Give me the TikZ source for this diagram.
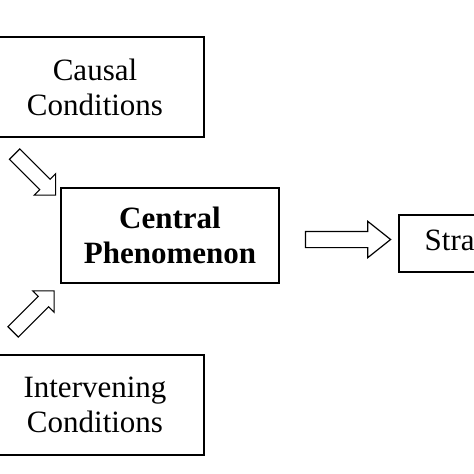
\documentclass[tikz,border=0pt]{standalone}
\usepackage{fontspec}
\setmainfont{Liberation Serif}
\usetikzlibrary{shapes, arrows, calc, positioning}

\begin{document}
\begin{tikzpicture}[x=1pt, y=-1pt]
	\tikzstyle{box} = [draw, line width=1.6pt, align=center, inner sep=0pt, font=\fontsize{31}{35}\selectfont]
	\tikzstyle{hollow} = [draw, line width=1.2pt, single arrow, single arrow head indent=0pt, inner xsep=0pt]

	\useasboundingbox (0,0) rectangle (474,474);
	\clip (0,0) rectangle (474,474);

	\path
		node[box, minimum width=218pt, minimum height=100pt] (causal) at (95,87) {Causal\\Conditions}
		node[box, minimum width=218pt, minimum height=95pt, font=\fontsize{31}{35}\selectfont\bfseries] (central) at (170,235.5) {Central\\Phenomenon}
		node[box, minimum width=218pt, minimum height=100pt] (intervening) at (95,405) {Intervening\\Conditions}
		node[box, anchor=west, minimum width=174pt, minimum height=57pt] (strategies) at (398,243.5) {Strategies}

		% hollow arrows
		node[hollow, minimum height=58pt, inner ysep=6.75pt, single arrow head extend=7.75pt, rotate=-45] (causalarrow) at (32.5,172) {}
		node[hollow, minimum height=58pt, inner ysep=6.75pt, single arrow head extend=7.75pt, rotate=45] (interveningarrow) at (31,314) {}
		node[hollow, minimum height=85pt, inner ysep=7.5pt, single arrow head extend=10pt, single arrow tip angle=77] (centralarrow) at (343,239.5) {}
	;
\end{tikzpicture}
\end{document}
